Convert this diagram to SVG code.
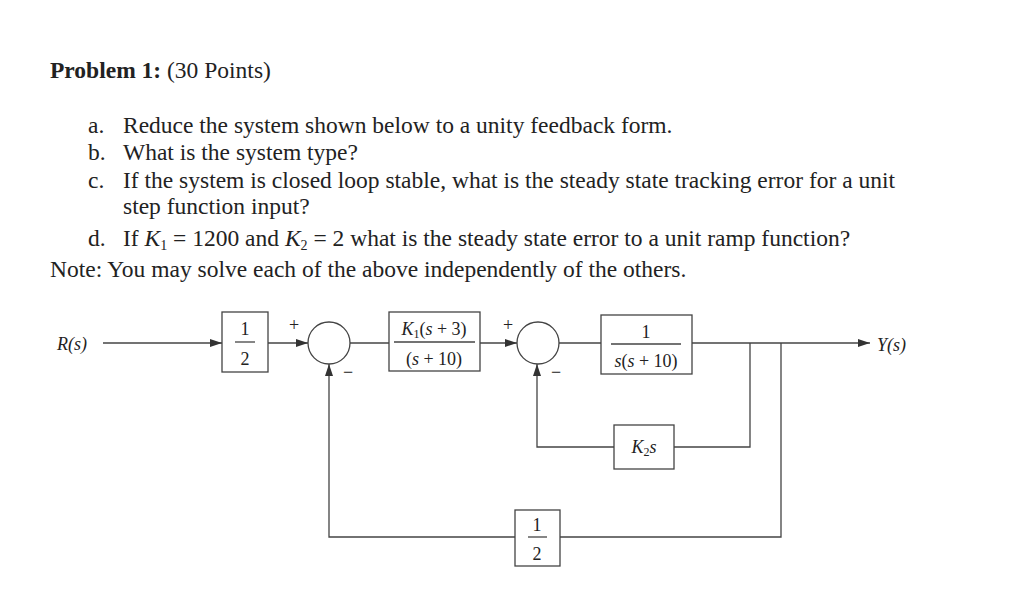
<svg xmlns="http://www.w3.org/2000/svg" width="1024" height="603" viewBox="0 0 1024 603">
<style>
text{font-family:"Liberation Serif",serif;fill:#222}
.t{font-size:23.5px}
.d{font-size:18px}
.i{font-style:italic}
.b{fill:#fff;stroke:#444;stroke-width:1.3}
.l{fill:none;stroke:#444;stroke-width:1.3}
</style>
<defs><marker id="a" markerWidth="12" markerHeight="8" refX="12" refY="4" orient="auto" markerUnits="userSpaceOnUse"><path d="M0,0L12,4L0,8z" fill="#333"/></marker></defs>
<rect width="1024" height="603" fill="#fff"/>
<g id="text">
<text x="50" y="78" class="t"><tspan font-weight="bold">Problem 1:</tspan> (30 Points)</text>
<text x="88" y="133" class="t">a.</text><text x="123" y="133" class="t">Reduce the system shown below to a unity feedback form.</text>
<text x="88" y="160" class="t">b.</text><text x="123" y="160" class="t">What is the system type?</text>
<text x="88" y="188" class="t">c.</text><text x="123" y="188" class="t">If the system is closed loop stable, what is the steady state tracking error for a unit</text>
<text x="123" y="214" class="t">step function input?</text>
<text x="88" y="246" class="t">d.</text><text x="123" y="246" class="t">If <tspan class="i">K</tspan><tspan font-size="14" dy="4">1</tspan><tspan dy="-4"> = 1200 and </tspan><tspan class="i">K</tspan><tspan font-size="14" dy="4">2</tspan><tspan dy="-4"> = 2 what is the steady state error to a unit ramp function?</tspan></text>
<text x="50" y="277" class="t">Note: You may solve each of the above independently of the others.</text>
</g>
<g id="connectors">
<line x1="103" y1="343" x2="222" y2="343" class="l" marker-end="url(#a)"/>
<line x1="268" y1="343" x2="308" y2="343" class="l" marker-end="url(#a)"/>
<line x1="350" y1="343" x2="389" y2="343" class="l"/>
<line x1="480" y1="343" x2="517" y2="343" class="l" marker-end="url(#a)"/>
<line x1="559" y1="343" x2="601" y2="343" class="l"/>
<line x1="692" y1="343" x2="870" y2="343" class="l" marker-end="url(#a)"/>
<polyline points="750,343 750,447 674,447" class="l"/>
<polyline points="614,447 537,447 537,364" class="l" marker-end="url(#a)"/>
<polyline points="781,343 781,537 560,537" class="l"/>
<polyline points="515,537 329,537 329,364" class="l" marker-end="url(#a)"/>
<text x="289" y="331" class="d">+</text><text x="343" y="378" class="d">−</text>
<text x="503" y="331" class="d">+</text><text x="551" y="378" class="d">−</text>
<text x="57" y="350" class="d i">R(s)</text>
<text x="877" y="351" class="d i">Y(s)</text>
</g>
<g id="g1"><rect x="222" y="312" width="46" height="60" class="b"/><text x="245" y="335" class="d" text-anchor="middle">1</text><line x1="235" y1="342" x2="255" y2="342" class="l"/><text x="245" y="365" class="d" text-anchor="middle">2</text></g>
<g id="s1"><circle cx="329" cy="343" r="21" class="b"/></g>
<g id="g2"><rect x="389" y="312" width="91" height="59" class="b"/><text x="434" y="335" class="d" text-anchor="middle"><tspan class="i">K</tspan><tspan font-size="12" dy="3">1</tspan><tspan dy="-3">(</tspan><tspan class="i">s</tspan> + 3)</text><line x1="394" y1="342" x2="475" y2="342" class="l"/><text x="434" y="365" class="d" text-anchor="middle">(<tspan class="i">s</tspan> + 10)</text></g>
<g id="s2"><circle cx="538" cy="343" r="21" class="b"/></g>
<g id="g3"><rect x="601" y="315" width="91" height="59" class="b"/><text x="646" y="338" class="d" text-anchor="middle">1</text><line x1="611" y1="344" x2="681" y2="344" class="l"/><text x="646" y="367" class="d" text-anchor="middle"><tspan class="i">s</tspan>(<tspan class="i">s</tspan> + 10)</text></g>
<g id="h1"><rect x="614" y="425" width="60" height="44" class="b"/><text x="644" y="453" class="d" text-anchor="middle"><tspan class="i">K</tspan><tspan font-size="12" dy="3">2</tspan><tspan dy="-3" class="i">s</tspan></text></g>
<g id="h2"><rect x="515" y="510" width="45" height="56" class="b"/><text x="537" y="531" class="d" text-anchor="middle">1</text><line x1="528" y1="537" x2="547" y2="537" class="l"/><text x="537" y="560" class="d" text-anchor="middle">2</text></g>
</svg>
